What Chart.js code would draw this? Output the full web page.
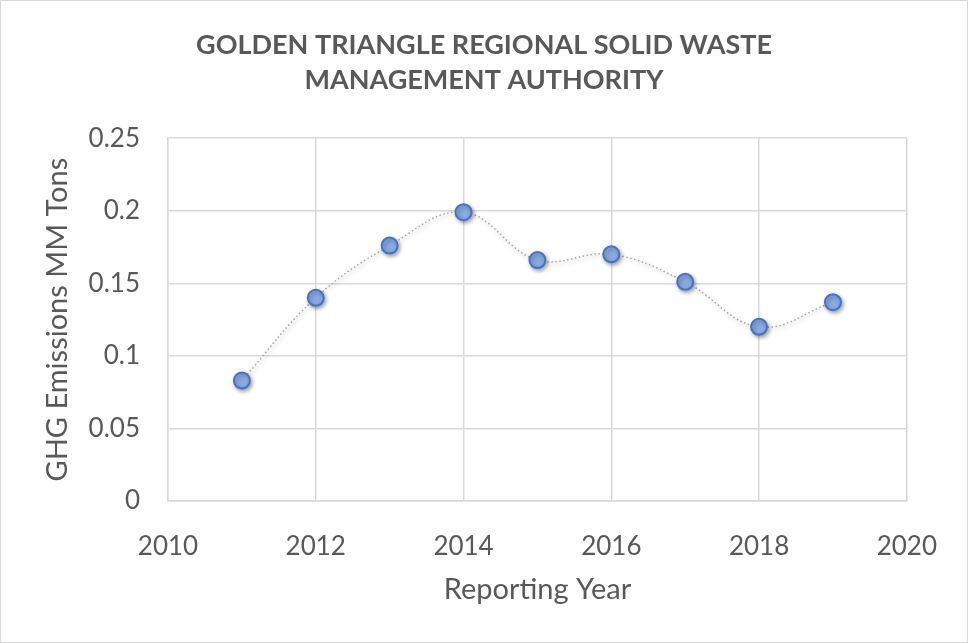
<!DOCTYPE html>
<html>
<head>
<meta charset="utf-8">
<script src="https://cdn.jsdelivr.net/npm/chart.js@4/dist/chart.umd.min.js"></script>
<style>
  html, body { margin: 0; padding: 0; background: #fff; }
  #wrap { width: 968px; height: 643px; box-sizing: border-box; border: 1px solid #d9d9d9; background: #fff; }
  #wrap canvas { display: block; }
</style>
</head>
<body>
<div id="wrap"><canvas id="c" width="966" height="641"></canvas></div>
<script>
const chartTitle = ['GOLDEN TRIANGLE REGIONAL SOLID WASTE', 'MANAGEMENT AUTHORITY'];
const xAxisTitle = 'Reporting Year';
const yAxisTitle = 'GHG Emissions MM Tons';
const years = [2011, 2012, 2013, 2014, 2015, 2016, 2017, 2018, 2019];
const emissions = [0.083, 0.140, 0.176, 0.199, 0.166, 0.170, 0.151, 0.120, 0.137];
const xTickValues = [2010, 2012, 2014, 2016, 2018, 2020];
const xTickLabels = ['2010', '2012', '2014', '2016', '2018', '2020'];
const yTickValues = [0, 0.05, 0.1, 0.15, 0.2, 0.25];
const yTickLabels = ['0', '0.05', '0.1', '0.15', '0.2', '0.25'];

const FONT = 'Lato, "Open Sans", "Liberation Sans", sans-serif';
const TXT = '#595959';
const GRID = '#d9d9d9';

function labelFor(values, labels, v) {
  for (let i = 0; i < values.length; i++) {
    if (Math.abs(values[i] - v) < 1e-9) return labels[i];
  }
  return '';
}

const shadowPlugin = {
  id: 'markerShadow',
  beforeDatasetsDraw(chart) {
    const ctx = chart.ctx;
    ctx.save();
    ctx.shadowColor = 'rgba(0,0,0,0.35)';
    ctx.shadowBlur = 4;
    ctx.shadowOffsetX = 1.5;
    ctx.shadowOffsetY = 2;
  },
  afterDatasetsDraw(chart) {
    chart.ctx.restore();
  }
};

new Chart(document.getElementById('c'), {
  type: 'scatter',
  data: {
    datasets: [{
      label: 'GHG Emissions',
      data: years.map((y, i) => ({ x: y, y: emissions[i] })),
      showLine: true,
      tension: 0.4,
      borderColor: '#a6a6a6',
      borderWidth: 1.5,
      borderDash: [1.5, 2.5],
      pointRadius: 8,
      pointHoverRadius: 8,
      pointBackgroundColor: '#8aaae2',
      pointBorderColor: '#4472c4',
      pointBorderWidth: 2
    }]
  },
  plugins: [shadowPlugin],
  options: {
    responsive: false,
    animation: false,
    events: [],
    layout: { padding: 0 },
    plugins: {
      legend: { display: false },
      tooltip: { enabled: false },
      title: {
        display: true,
        text: chartTitle,
        color: TXT,
        font: { family: FONT, size: 27, weight: 'bold', lineHeight: 1.3 },
        padding: { top: 27, bottom: 40 }
      }
    },
    scales: {
      x: {
        type: 'linear',
        min: 2010,
        max: 2020,
        afterBuildTicks(scale) { scale.ticks = xTickValues.map(v => ({ value: v })); },
        afterFit(scale) { scale.height = 141; },
        ticks: {
          color: TXT,
          font: { family: FONT, size: 26 },
          padding: 30,
          maxRotation: 0,
          callback: (v) => labelFor(xTickValues, xTickLabels, v)
        },
        grid: { color: GRID, lineWidth: 1.5, drawTicks: false },
        border: { color: GRID, width: 1.5 },
        title: {
          display: true,
          text: xAxisTitle,
          color: TXT,
          font: { family: FONT, size: 29 },
          padding: { top: 0, bottom: 35 }
        }
      },
      y: {
        type: 'linear',
        min: 0,
        max: 0.25,
        afterBuildTicks(scale) { scale.ticks = yTickValues.map(v => ({ value: v })); },
        afterFit(scale) { scale.width = 167; },
        ticks: {
          color: TXT,
          font: { family: FONT, size: 26 },
          padding: 28,
          callback: (v) => labelFor(yTickValues, yTickLabels, v)
        },
        grid: { color: GRID, lineWidth: 1.5, drawTicks: false },
        border: { color: GRID, width: 1.5 },
        title: {
          display: true,
          text: yAxisTitle,
          color: TXT,
          font: { family: FONT, size: 29 },
          padding: { top: 39, bottom: 0 }
        }
      },
      spacer: {
        type: 'linear',
        position: 'right',
        min: 0,
        max: 1,
        afterFit(scale) { scale.width = 60; },
        ticks: { display: false },
        grid: { display: false, drawTicks: false },
        border: { display: false }
      }
    }
  }
});
</script>
</body>
</html>
